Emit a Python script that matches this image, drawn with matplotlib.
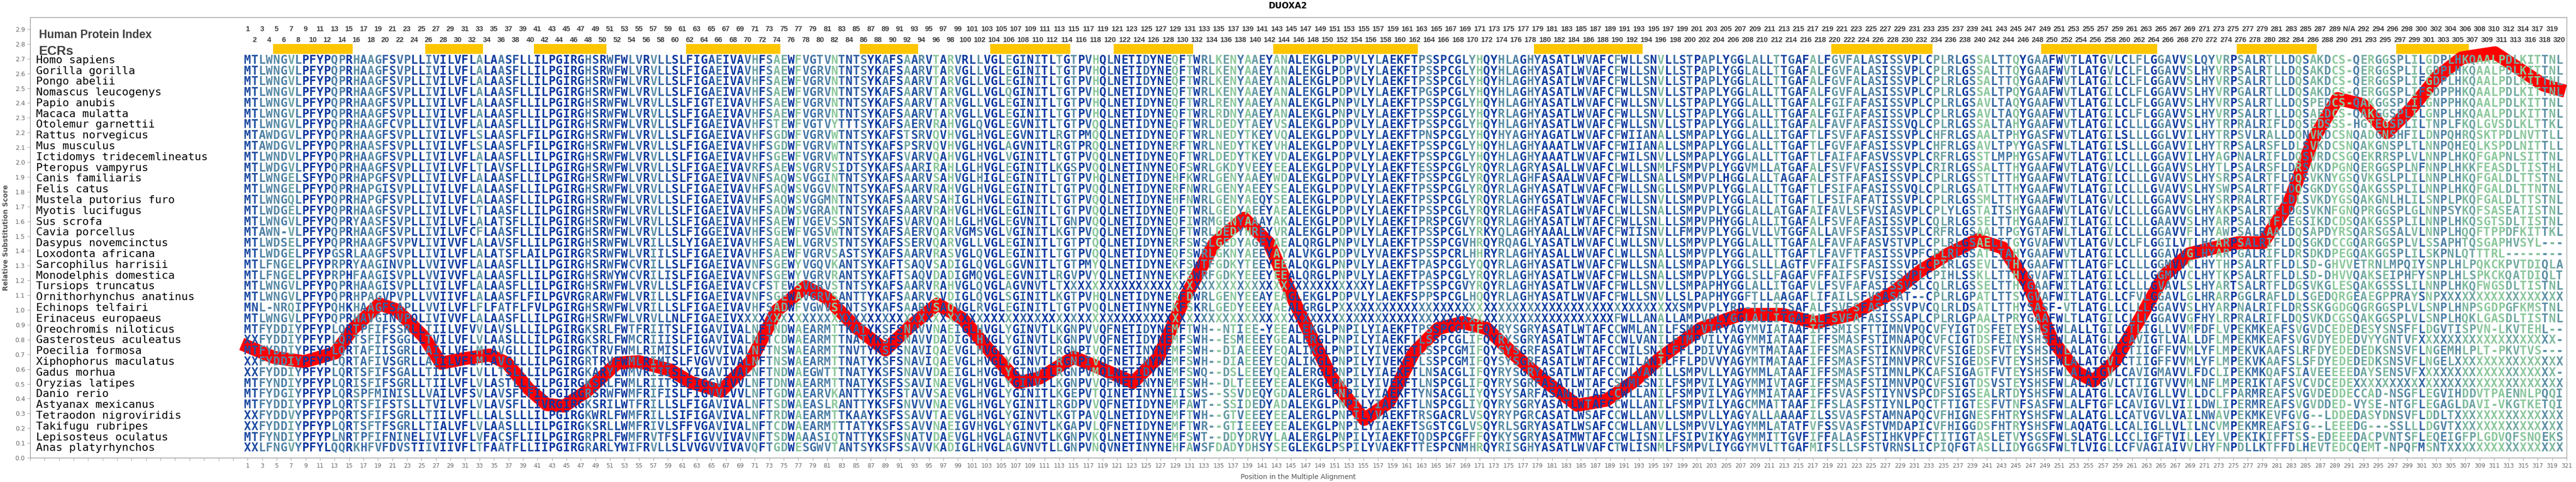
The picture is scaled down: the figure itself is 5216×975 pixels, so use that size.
import matplotlib
matplotlib.use("Agg")
import matplotlib.pyplot as plt
import numpy as np
from collections import Counter
from matplotlib.colors import LinearSegmentedColormap, Normalize

TITLE = "DUOXA2"
SPECIES = ["Homo sapiens", "Gorilla gorilla", "Pongo abelii", "Nomascus leucogenys", "Papio anubis",
           "Macaca mulatta", "Otolemur garnettii", "Rattus norvegicus", "Mus musculus",
           "Ictidomys tridecemlineatus", "Pteropus vampyrus", "Canis familiaris", "Felis catus",
           "Mustela putorius furo", "Myotis lucifugus", "Sus scrofa", "Cavia porcellus",
           "Dasypus novemcinctus", "Loxodonta africana", "Sarcophilus harrisii", "Monodelphis domestica",
           "Tursiops truncatus", "Ornithorhynchus anatinus", "Echinops telfairi", "Erinaceus europaeus",
           "Oreochromis niloticus", "Gasterosteus aculeatus", "Poecilia formosa", "Xiphophorus maculatus",
           "Gadus morhua", "Oryzias latipes", "Danio rerio", "Astyanax mexicanus", "Tetraodon nigroviridis",
           "Takifugu rubripes", "Lepisosteus oculatus", "Anas platyrhynchos"]

# alignment columns 1-60
SEG1 = [
"MTLWNGVLPFYPQPRHAAGFSVPLLIVILVFLALAASFLLILPGIRGHSRWFWLVRVLLS",
"MTLWNGVLPFYPQPRHAAGFSVPLLIVILVFLALAASFLLILPGIRGHSRWFWLVRVLLS",
"MTLWNGVLPFYPQPRHAAGFSVPLLIVILVFLALAASFLLILPGIRGHSRWFWLVRVLLS",
"MTLWNGVLPFYPQPRHAAGFSVPLLIVILVFLALAASFLLILPGIRGHSRWFWLVRVLLS",
"MTLWNGVLPFYPQPRHAAGFSVPLLIVILVFLALAASFLLILPGIRGHSRWFWLVRVLLS",
"MTLWNGVLPFYPQPRHAAGFSVPLLIVILVFLALAASFLLILPGIRGHSRWFWLVRVLLS",
"MTLWNGVLPFYPQPRHAAGFCVPLLIVILVFLALAASFLLILPGIRGHSRWFWLVRVLLS",
"MTAWDGVLPFYPQPRHAAGFSVPLLIVILVFLSLAASFLFILPGIRGHSRWFWLVRVLLS",
"MTAWDGVLPFYPQPRHAASFSVPLLIVILVFLSLAASFLFILPGIRGHSRWFWLVRVLLS",
"MTLWNDVLPFYPQPRHAAGFSVPLLIVILVFLALAASFLLILPGIRGHSRWFWLVRVLLS",
"MTLWDGVLPFYPQPRHAAGFSVPLLIVILVFLTLAVSFLLILPGIRGHSRWFWLVRVLLS",
"MTLWNGELSFYPQPRHAPGFSVPLLIVILVFLALAASFLLILPGIRGHSRWFWLVRVLLS",
"MTLWNGELPFYPQPRHAPGISVPLLIVILVFLALAASFLLILPGIRGHSRWFWLVRVLLS",
"MTLWNGQLPFYPQPRHAPGFSVPLLIVILVFLALAASFLLILPGIRGHSRWFWLVRVLLS",
"MTLWDGELPFYPQPRHAAGFSVPLLIVILVFLTLAASFLLILPGIRGHSRWFWLVRVLLS",
"MTLWNGVLPFYPQPRYAASFSVPLLIVILVFLALATSFLLILPGIRGHSRWFWLVRVLLS",
"MTAWN-VLPFYPQPRHAAGFSVPLLIVILVFCFLAASFLLILPGIRGHSRWFWLVRVLLS",
"MTLWDSELPFYPQPRHAAGFSVPVLIVIVVFLALAVSFLLILPGIRGHSRWFWLVRILLS",
"MTLWDGELPFYPGSRLAAGFSVPLLIVILVFLALATSFLAILPGIRGRSRWFWLVRIILS",
"MTLFNGELPFYPRPRYAAGINVPLLVVIVVFLALAASFLLILPGIRGHSRWFWCVRILLS",
"MTLFNGELPFYPRPHFAAGISVPLLVVIVVFLALAASFLLILPGIRGHSRWYWCVRILIS",
"MTLWNGVLPFYPQPRHAAGISVPLLIVILVFLALAASFLLILPGIRGHSRWFWLVRVLLS",
"MTLWNGVLPFYPQPRHPAGVPVPLLVVIIVFLALAASFLFILPGVRGRARWFWLVRILLS",
"MNL-NRQIPFYPQHKHAAGFSAPLLVVILVFLFLFATFLFVLPGIRGHSRWFWLVRILLS",
"MTLWNGVLPFYPQPRHAVGINVPQLIVIVVFLALAASFLLILPGIRGHSRWFWLVRVLLN",
"MTFYDDIYPFYPLQRTPFIFSSRLLTIILVFVVLAVSLLLILPGIRGKSRLFWTFRIITS",
"XXFYDDIYPFYPLQRTSFIFSGGLLTVILVFLVLAASLLLILPGIRGKSRLFWMCRIIIS",
"MTFYDDIYPFYPLQRTAFIISGRLLAIILVFLMLAVGLLLILPGIRGKTRVFWMLRIMIS",
"XXFYDDIYPFYPLQRTAFIVSGRLLAIILVFLMLAVGLLLILPGIRGRTRVFWMLRIMIS",
"XXFYDDIYPFYPLQRTSFIFSGALLTIILVFLVLLTSLLLILPGIRGKARYLWMVRIIIS",
"MTFYNDIYPFYPLQRISFIFSGRLLTIILVFLVLASTLLLILPGIRGKSRLFWMLRIITS",
"MTFYDGIYPFYPLQRSPFMINISLLVAILVFSVLAVSFLFILPGIRGRSRWFWMFRIFIS",
"MTFYDDIYPFYPLQRTSFIFSTSLLTVILVFLVLAVSFLLIVRGIRGKSRILWTFRILIS",
"XXFYDDVYPFYPPQRTSFIFSGRLLTIILVFLLLALSLLLILPGIRGKWRLFWMFRILLS",
"XXFYDDIYPFYPLQRTSFTFSGRLLTIALVFLVLAASLLLILPGIRGKSRLLWMFRIVLS",
"MTFYNDIYPFYPLNRTPFIFNINELIVILVFLVFACSFLIILPGIRGRPRLFWMFRVTFS",
"XXLFNGVYPFYLQQRKHFVFDVSTIIVIIVFLTFAATFLLIIPGIRGRARLYWIFRVLLS",
]

# alignment columns 59-150 (species 10-37)
SEG2 = [None] * 9 + [
"LSLFIGAEIVAVHFSGEWFVGRVWTNTSYKAFSVARVQAHVGLHVGLVGINITLTGTPVQQLNETIDYNEQFTWRLDEDYTKEYVDALEKGL",
"LSLFIGAEIVAVRFSAEWSVGRVSIDTSYKAFSAARIRAHLGLHVGLEGINITLKGSPVQQLNETINYNEQFSWRLGKDYVEEYEEALEKGL",
"LSLFIGAEIVAVNFSAQWSVGGINTNTSYKAFSAARVSAHVGLHIGLEGINITLTGTPVHQLNETIDYNEHFKWRLGENYAAEYWDALEKGL",
"LSLFIGAEIVAVHFSAQWSVGGVNTNTSYKAFSAARVRAHVGLHVGLEGINITLTGTPVQQLNETIDYNERFNWRLGENYAEEYSEALEKGL",
"LSLFIGAEIVAVHFSAQWSVGGMNTNTSYKAFSAARVSAHIGLHVGLEGINITLTGTPVQQLNETIDYNEHFNWRLGENYAEQYSEALEKGL",
"LSLFIGAEIVAVHFSADWSVGRANTNTSYKAFSAARVRAHVGLHVGLEGINITLTGTPVQQLNETIDYNEQFTWRLGEDYAEEYAEALEKGL",
"LSLFIGAEIVAVHFSAEWTVGEVSSNTSYKAFSVARVQAHLGLHVGLEGVNITLTGNPVQQLNETIDYNEQFIWRMGENYAAAYAKALEKGL",
"LSLFIGGEIVAVHFSGEWFVGSVWTNTSYKAFSAERVQARVGMSVGLVGINITLKGTPVQQLNETIDYNEQFTWRLDEDYHREYVRALEKGL",
"LSLYIGAEIVAVHFSAEWLVGRVSTNTSYKAFSSERVQARVGLLVGLEGINITLTGTPTQQLNETIDYNERFSWSLGEDYAGEYAEALQRGL",
"LSLFIGAEIVAVHFSAEWFVGRVSASTSYKAFSAARVRASVGLQVGLEGINITLTGTPVQQLNETIDYNEQFSWRLGKNYAEEYAYALVKGL",
"LSLFIGAEIVAVNFSGEWYVGQVKANTSYKAFTSAQVSADIGLQVGLGGVNITLTGTPMYQLNETIDYNEKFSWTFGDKYTEEYEEALQKGL",
"ISLFIGAEIVAVNFSGEWYVGRVRANTSYKAFTSAQVDADIGMQVGLEGVNITLRGVPVYQLNETINYNEKFSWRFGDKYEEEYEEALQRGL",
"LSLFIGAEIVAVCFSTEWSVGRVSTNTSYKAFSAARVRAHVGLQVGLAGVNVTLTXXXXXXXXXXXXXXXXXXXXXXXXXXXXXXXXXXXXX",
"LSLFIGAEIVAVNFSGEWAVGRVSANTTYKAFSAARVSVDIGLQVGLSGINITLKGTPVHQLNETIDYNERFDWRLGENYEEAYEAGLEKGL",
"LSLFIGAEIVAVHFSADWFVGWVSTNTSYKAFSAARVSAQVGLRVGLEGINITLTGTPVQQLNETINYNEKFSKRLGEDYEEEYAEALGRGL",
"LNLFIGAEIVXXXXXXXXXXXXXXXXXXXXXXXXXXXXXXXXXXXXXXXXXXXXXXXXXXXXXXXXXXXXXXXXXXXXXXXXXXXXXXXXXX",
"TSLFIGAVIVALNFTNDWAEARMTTKATYKSFSNAVVNAEIGLHVGLYGINVTLKGNPVVQFNETIDYNEMFTWH--NTIEE-YEEALEKGL",
"ISLFIGAVIVALNFTCDWAEARMTTNATYKSFSNAVVDADIGLHVGLYGINVTLKGNPVVQFNETIDYNEMFSWH--ESMEEEYGEALERGL",
"ISLFIGVVIVALNFTNSWAEARMTTNVTYKSFSNAVIQAEVGLHVGLYGINVTLRGNPIVQFNETINYNEMFSWH--DIAEEEYEQALIKGL",
"ISLFVGVVIVALNFTNSWAEARMTTNATYKSFSNAVIQAEVGLHVGLYGINVTLRGNPIVQFNETINYNEMFSWH--DIAEEEYEQALIKGL",
"ISLYIGAVIVALNFTNDWAEGWTTTNATYKSFSNAVVDAEIGLHVGLYGINVTLRGNPVMQLNETIDYNEMFSWQ--DSLEEEYQEALERGL",
"TSLFIGGVIVVLNFTDNWAEARMTTNATYKSFSSAVINAEVGLHVGLYGINVTLKGNPVVQFNETINYNEMFSWH--DLTEEEYEEALEKGL",
"ISLFIGVVLVVLNFTGDWAEARVKANTTYKSFSTAVVSAEVGLHVGLYGINITLKGEPVTQINETINYNEIISWS--SSVDEQYGDALERGL",
"LSLFIGAVIVALNFTSDWAEASLRANTTYKSFSNVVVNAEVGLHVGLYGINITLRGDPVVQFNETIDYNEMFAWT--SSIDEDYADALEKGL",
"LSIFIGAVIVALNFTRDWAEARMTTKAAYKSFSSAVVTAEVGLHVGLYGINVTLKGTPAVQLNETIDYNEMFTWH--GTVEEEYEEALERGL",
"LSFFVGAVIVALNFTCDWAEARMTTTATYKSFSSAVVNAEIGVHVGLYGINVTLKGAPVLQFNETIDYNEMFTWR--GTIEEEYEEALEKGL",
"FSLFIGVVIVAVNFTSDWAAASIQTNTTYKSFSNATVDAEVGLHVGLAGINVTLKGNPVKQLNETINYNEMFSWT--DDYDRVYLAALERGL",
"LSLVVGVVIVAVQFTGDWESGWVTANTSYKSFSSAVVKADIGLHVGLAGVNVTLLGNPVNQVNETINYNEHFAWSFDADYDHSYSEGLEKGL",
]

# alignment columns 60-127 (species 1-9)
SEG2A = [
"SLFIGAEIVAVHFSAEWFVGTVNTNTSYKAFSAARVTARVRLLVGLEGINITLTGTPVHQLNETIDYN",
"SLFIGAEIVAVHFSAEWFVGRVNTNTSYKAFSAARVTARVGLLVGLEGINITLTGTPVHQLNETIDYN",
"SLFIGAEIVAVHFSAEWFVGRVNTNTSYKAFSAARVTARVGLLVGLEGINITLTGTPVHQLNETIDYN",
"SLFIGAEIVAVHFSAEWFVGRVNTNTSYKAFSAARVTARVGLLVGLQGINITLTGTPVHQLNETIDYN",
"SLFIGTEIVAVHFSAEWFVGRVNTNTSYKAFSAARVTARVGLLVGLEGINITLTGTPVHQLNETIDYN",
"SLFIGAEIVAVHFSAEWFVGRVNTNTSYKAFSAARVTARVGLLVGLEGINITLTGTPVHQLNETIDYN",
"SLFIGAEIVAVHFSTEWFVGTVYTTTSYKAFSAERVRAHVGLQVGLEGVNITLTGTPVQQLNETIDYN",
"SLFIGAEIVAVHFSGDWFVGRVWTNTSYKAFSTSRVQVHVGLHVGLEGVNITLRGTPMQQLNETIDYN",
"SLFIGAEIVAVHFSGDWFVGRVWTNTSYKAFSPSRVQVHVGLHVGLAGVNITLRGTPRQQLNETIDYN",
]
# alignment columns 127-154 (species 1-9)
SEG2B = [
"NEQFTWRLKENYAAEYANALEKGLPDPV", "NEQFTWRLKENYAAEYANALEKGLPDPV", "NEQFTWRLKENYAAEYANALEKGLPDPV",
"NEQFTWRLKENYAAEYANALEKGLPDPV", "NEQFTWRLRENYAAEYANALEKGLPNPV", "NEQFTWRLRDNYAAEYANALEKGLPNPV",
"NEQFTWRLDEDYTAEYVSALEKGLPDPV", "NEQFTWRLNEDYTKEYVQALEKGLPDPV", "NERFTWRLNEDYTKEYVHALEKGLPDPV",
]

# alignment columns 148-235
SEG3 = [
"KGLPDPVLYLAEKFTPSSPCGLYHQYHLAGHYASATLWVAFCFWLLSNVLLSTPAPLYGGLALLTTGAFALFGVFALASISSVPLCPL",
"KGLPDPVLYLAEKFTPSSPCGLYHQYHLAGHYASATLWVAFCFWLLSNVLLSTPAPLYGGLALLTTGAFALFGVFALASISSVPLCPL",
"KGLPDPVLYLAEKFTPSSPCGLYHQYHLAGHYASATLWVAFCFWLLSNVLLSTPAPLYGGLALLTTGAFALFGVFALASISSVPLCPL",
"KGLPDPVLYLAEKFTPGSPCGLYHQYHLAGHYASATLWVAFCFWLLSNVLLSTPAPLYGGLALLTTGAFALFGVFALASISSVPLCPL",
"KGLPNPVLYLAEKFTPSSPCGLYHQYHLAGHYASATLWVAFCFWLLSNVLLSTPAPLYGGLALLTTGAFALFGIFAFASISSVPLCPL",
"KGLPNPVLYLAEKFTPSSPCGLYHQYRLAGHYASATLWVAFCFWLLSNVLLSTPAPLYGGLALLTTGAFALFGIFAFASISSVPLCPL",
"KGLPDPVLYLAEKFTPSSPCGLYHQYHLAGHYASATLWVAFCFWLLSNVLLSTPAPLYGGLALLITGAFALFAVFAFASISSVQLCPL",
"KGLPDPVLYLAEKFTPNSPCGLYHQYHYAGHYAGATLWVAFCFWIIANALLSMPAPLYGGLALLITGAFTLFSVFAFASISSVPLCHF",
"KGLPDPVLYLAEKFTPSSPCGLYHQYHLAGHYAAATLWVAFCFWIIANALLSMPAPLYGGLALLTTGAFTLFGVFAFASISSVPLCHF",
"KGLPDPVLYLAEKFTPSSPCGLYHQYHLAGHYAAATLWVAFCFWILSNVLLSMPAPLYGGLALLTTGAFTLFAIFAFASVSSVPLCRF",
"KGLPDPVLYLAEKFTESSPCGLYRQYRLAGRYASALLWVAFCLWLLSNMLFSMPVPLYGGVMLLATGAFALFSVFVFASISSVPLCRI",
"KGLPDPVLYLAEKFTPSSPCGLYRQYRLAGHFASAALWVAFCFWLLSNALLSMPVPLHGGLALLTAGAFALFSTFAFASISSVPLCPL",
"KGLPDPVLYLAEKFTPSSPCGLYRQYRLAGHYASATLWVAFCFWLLSNGLLSMPVPLYGGLALLTTGAFTLFSIFAFASISSVQLCPL",
"KGLPDPVLYLAEKFTPSSPCGLYRQYRLAGHYGSATLWVAFCFWLLSNVLLSMPVPLYGGLALLTTGAFTLFSIFAFATISSVPLCPL",
"KGLPDPVLYLAEKFTPSSPCGLYRQYRLAGHFASATLWVAFCLWLLSNALLSMPVPLYGGLALLATGAFAIFAVLSFVSIASVPLCPL",
"KGLPDPVLYLAEKFTPRSPCGVYRQYRLAGHYASATLWTAFCFWLLSNLLLSMPVPHYGGLALLITGAFALFSVFAFASISSVPLCQL",
"KGLPDPVLYLAEKFTPSSPCGLYRKYQLAGHYAAALLWVAFCFWIISNVLLFMPVPLYGGLVLLVTGGFALLAVFSFASISSVPLCRF",
"RGLPNPVLYLAEKFTPSSPCGVHRQYRQAGLYASATLWVAFCLWLLSNVLLSMPVPLYGGLALLTTGAFALFAVFAFASVSTVPLCPL",
"KGLPDPVLYVAEKFSPSSPCRLHHRYRLAGHYASALLWVAFCLWLLSNALLSMPVPLYGGLALLTTGAFTLFAVFTFASISSVPFCPL",
"KGLPNPVLYLAEKFTPASPCGLYQQYRLAGHYASATLWVAFCFWLLSNALLSMPAPLYGGLSLLLAGTFVFFAIFSFASISSVPLCPI",
"RGLPNPVLYLAEKFTPASPCGLYRQYRLAGHYASATLWVAFCFWLLSNALLSMPVPLYGGLSLLFAGAFVFFAIFSFVSISSVPLCPI",
"XXXXXXXXYLAEKFTPSSPCGVYRQYRLAGHYASATLWVAFCFWLLSNVLLSMPAPHYGGLALLITGAFVLFSVFAFASISSVSLCQL",
"KGLPDPVLYLAEKFSPPSPCGLHQQYRLAGHYASATLWVAFCFWLLSNVLLSLPAPHYGGFTLLAAGAFLIFAILSFVSASAT--CPL",
"RGLPXXXXXXXXXXXXXXXXXXXXXXXXXXXXXXXXXXXXXXXXXXXXXXXSMPVPLYRD-TLLTISAFALFSVFSFASISSVPVCQL",
"XXXXXXXXXXXXXXXXXXXXXXXXXXXXXXXXXXXXXXXXXXFWLLANALLAMPVPLYGGLALLITGAFALFSVFAFASISSAPLCPL",
"KGLPNPILYIAEKFTPSSPCGLIFQYRYSGRYASATLWTAFCCWMLANILFSMPVIRYAGYMVIATAAFIFFSMISFTTIMNVPQCVF",
"RGLPNPILYIAEKFTLSSPCGLIFQYRYSGRYASATLWTAFCCWLVANILFTMPVILYAGYMMIATAAFIFFSMASFSTIMNAPQCVF",
"KGLPNPILYIVEKFTLSSPCGMIFQYSYSGRFASATLWTAFCCWILSNILFFLPDIVYAGYMTMATAAFIFFSMASFSTIKNVPRCVF",
"KGLPNPILYIVEKFTLSSPCGMIFQYSYSGRFASATLWTAFCCWILANILFFLPDVVYAGYMTMATAAFIFFSMASFSTIMNVPRCVF",
"RGLPNPILYIAEKFTLNSACGLIFQYRYSGRYASATLWTAFCCWLVANILLSMPVLLYAGYMMLATAAFIFFSMASFSTIMNLPKCAF",
"KGLPNPILYIVEKFTLNSPCGLIFQYRYSGRFASATLWTAFCSWMLSNILFSMPVILYAGYMMIVTAGFIFFSMASFSTIMNVPQCVF",
"RGLPNPILYIAEKFTYNSACGLIYQYSYSARFASANLWTAFCCWLLANILFSMPVILYAGYMMIATAAFIFFSVASFSTIYNVSPCDF",
"KGLPNPILYIAEKFTLNSPCGLIYQYRYSGRYASATLWTAFCCWLLANILFSMPVILYAGCMMATTAAFIFFSLASFSTIYNLPQCTF",
"RGLPNPILYVAEKFTRSGACRLVSQYRYPGRCASATLWSAFCCWLLANVLLSMPVLLYAGYALLAAAAFILSSVASFSTAMNAPQCVF",
"KGLPNPILYIAEKFTSGSTCGLVSQYRLSGRYASATLWSAFCCWLLANVLLSMPVVLYAGYMMLATATFVFSSVASFSTVMDAPICVF",
"RGLPNPILYIAEKFTQDSPCGFFFQYKYSGRYASATMWTAFCCWLISNILFSIPVIKYAGYMMITTGVFIFFALASFSTIHKVPFCTI",
"KGLPSPILYVAEKFTTESPCNMHRQYRISGHYASATLWVAFCTWLISNMLFSMPVLIYGGYMVLTTGAFMIFSLLSFSTVRNSLICPI",
]

# alignment columns 233-320
SEG4 = [
"CPLRLGSSALTTQYGAAFWVTLATGVLCLFLGGAVVSLQYVRPSALRTLLDQSAKDCS-QERGGSPLILGDPLHKQAALPDLKITTNL",
"CPLRLGSSALTTQYGAAFWVTLATGVLCLFLGGAVVSLHYVRPSALRTLLDQSAKDCS-QERGGSPLILGDPLHKQAALPDLKITTNL",
"CPLRLGSSALTTQYGAAFWVTLATGILCLFLGGAVVSLHYVRPSALRTLLDQSAKDCS-QERGGSPLIFGDPLHKQAALPDLKITTNL",
"CPLRLGSSALTPQYGAAFWVTLATGILCLFLGGAVVSLHYVRPGALRTLLDQSAKDCS-QERGGSPLIFSDPPHKQAALPDLKITTNL",
"CPLRLGSAVLTAQYGAAFWVTLATGILCLFLGGAVVSLHYVRPSALRTLLDQSPEDCS-QAKGGSPLILGNPPHKQAALPDLKITTNL",
"CPLRLGSAVLTAQYGAAFWVTLATGILCLFLGGAVVSLHYVRPSALRTLLDQSAEDCS-QAKGGSPLILGNPLHKQAALPDLKITTNL",
"CPLRLGSSALTAHYGAAFWVTLATGILCLLLGGAVVSLHYTRPRALRIFLDQSEDSSS-HGTEGSPLILTNPLFKQLGVSDLKLTTKL",
"CHFRLGSAALTPHYGASFWVTLATGILSLLLGGLVVILHYTRPSVLRALLDQNVKDCSNQADGNSHFILDNPQHRQSKTPDLNVTTLL",
"CHFRLGSAVLTPYYGASFWLTLATGILSLLLGGAVVILHYTRPSALRSFLDLSVKDCSNQAKGNSPLTLNNPQHEQLKSPDLNITTLL",
"CRFRLGSSTLMPHYGSAFWVTLATGILCLLLGGAVVILHYAGPNALRIFLDQSVRDCSGQEKRRSPLVLNNPLHKQFGAPNLSITTNL",
"CRIRLGSSALTTHYGAAFWVTLATGVLCLLLGGAVVSLHYTLPSALRSFLDRSVKDPGNQERGGSPLNFNNPLHKKFEASDLTISTHL",
"CPLRLGSSTLTTHYGAAFWVTLATGILCLLLGVAVVSLHYSRPSALRTFLDQSVKNYGSQVKGSLPLILNNPLHKQFGALDLTTSTNL",
"CPLRLGSATLTTHYGAAFWVTLATGILCLLLGVAVVSLHYSWPSALRTFLDQSGKDYGSQAKGSSPLILNNPLHKQFGALDLTTNTNL",
"CPLRLGSSMLTTHYGAAFWVTLATGVLCLLLGGAVVSLHYSRPRALRTFLDLSVKDYGSQAKGNLHLILSNPLPKQFGALDLTTSTNL",
"CPLYLGSTAITSHYGAAFWVTLATGVLCLLLGGAVVGLHYAKPSALRTFLDGSVKNFGNQPRGGSPLGLNNPSYKQFSASEATISTNL",
"CQLRLGSSELTTHYGAAFWITLATGILCLLLGAAVVSLHYARPSALRTFLEGSIKDCDSQAKGSSPLILNNPLHKQSGTSDLTISTNL",
"CRFRLGSAALTPGYGTAFWLTLATGILCLLLGGAVVFLHYAWPSALRAALDQSAPDYRSQARSGSALVLNNPLHQQFTPPDFKITTKL",
"CPLRLGSAELTTGYGVAFWVTLATGVLCLFLGGILVTLHCARPSALRIFLDQSGKDCCGQARGGSPLVLSSAPHTQSGAPHVSYL---",
"CPLRLGSATLTAHYGAAFWVTLATGILCLLLGGAVVGLHYARPGALRIFLDRSDKDPEGQAKGGSPLILSKPNLQTTTRL--------",
"CPIRLGSEVLTTHYGAAFWTTLATGFLCLLLGGMVVCLHYTHPSALRTFLDLSD-GHVVETRNLMPQIYSNPLHLPQKCKPVTDIQLA",
"CPIHLSSKLLTTHYGVAFWITLATGILCLLLGGMVVCLHYTKPSALRTFLDLSD-DHVVQAKSEIPHFYSNPLHLSPKCKQATDIQLT",
"CQLRLGSSELTTHYGAAFWITLATGILCLLLGVAVLSLHYARTSALRTFLDGSVKGLESQAKGSSSLILNNPLHKQFWGSDLTISTNL",
"CPLRLGPATLTTSYGVAFWITLATGLLCFVLGGAVLGLHRARPGGLRAFLDLSGEDQRGEAEGPPRAYSNPXXXXXXXXXXXXXXXXX",
"CQLRLDSATLTTHYSASF-VTLATGLLCLLLGGAVVSLHYARPNALRIFLDRSSKGGDGQGRGGSPLVLSNPLHNPSGDPGFKMSTNL",
"CPLRLGPAALTPRYGAAFWLTLATGILCLLLGGAVVGFHYLRPRALRIFLDQSVKDCGSQAKGGSPLVLSNPLHQKLGASDLTISTNL",
"CVFYIGTDSFETEYSHSFWLALLTGILCTLIGLLVVMFDFLVPEKMKEAFSVGVDCEDEDESYSNSFFLDGVTISPVN-LKVTEHL--",
"CVFCIGTDSFEINYSHSFWLALATGLLCAVIGTLVALLDFLMPEKMKEAFSVGVDYEDEDVYYGNTVFXXXXXXXXXXXXXXXXXXX",
"CVFSIGEDSFVTEYSHSFWLALATGVLCTIIGFFVVMLYFLMPEKVKAAFSLRFDYEDEDEDKSNSVFLNGEMHLPLT-PKVTVS---",
"CVFSIGEDSFVTEYSHSFWLALATGVLCTIIGFFVVMLYFLMPEKVKAAFSLSFDYEDEDEDKSNSVFLNGELXXXXXXXXXXXXXXX",
"CAFSIGAGTFVTEYSHSFWLALATGVLCAVIGMAVVLFDCLIPEKMKQAFSIAVEEEEEDAYSENSVFXXXXXXXXXXXXXXXXXXX",
"CVFSIGTDSVSTEYSHSFWLALATGVLCTIIGTVVVMLNFLMPERIKTAFSVCVDCEDEXXXXXXXXXXXXXXXXXXXXXXXXXXXXX",
"CDFSIGSEALRTDYSHSFWLALATGLLCAVIGLLVVLLDCLFPARMREAFSVGVDEDDECCAD-NSGFLEGVIHDDVTPAENNLPQQI",
"CTFTIGTESFVTNFSASFWLALFTGFLCAVIGVLVIILDWLIPERMREAFSVGVDDED-VYSE-NTGFLEGAGLDAVI-VKGTKETQI",
"CVFHIGNESFHTRYSHSFWLALATGLLCATVGVLVAILNWAVPEKMKEVFGVG--LDDEDASYDNSVFLDDLTXXXXXXXXXXXXXXX",
"CVFHIGGDSFHTRYSHSFWLAQATGLLCALIGLLVLILNCVMPEKMREAFSIG--LEEEDG---SSLLLDGVTXXXXXXXXXXXXXXX",
"CTITIGTASLETVYSGSFWLSLATGLLCCLIGFTVILLEYLVPEKIKIFFTSS-EDEEEDACPVNTSFLEQEIGFPLGDVQFSNQEKS",
"CPIQFGTASLLIDYGGSFWLTLVIGLLCFVAGIAIVVLHYFNPDLLKTFFDLHEVTEDCQEMT-NPQFMSNTXXXXXXXXXXXXXXXX",
]

# human protein index per alignment column
HUMAN_INDEX = [str(i) for i in range(1, 291)] + ["N/A"] + [str(i) for i in range(291, 315)] + [str(i) for i in range(316, 321)]

# ECR regions (alignment columns, inclusive)
ECR_START = [5, 26, 41, 62, 86, 104, 121, 143, 179, 220, 249, 276, 298]
ECR_END = [15, 33, 50, 74, 93, 114, 131, 162, 193, 233, 264, 286, 307]

# relative substitution score curve
CURVE_POS = [0.2, 4.6, 8.8, 13.1, 15.5, 19.2, 21.6, 25.3, 27.7, 30.8, 34.4, 36.8, 39.8, 42.3, 44.7, 47.8,
             52, 55, 59.3, 62.2, 66.3, 70.4, 74, 78, 81, 85, 89, 92.7, 96.2, 99.7, 103.3, 107.4, 110.3,
             115, 118, 123.2, 126.7, 130.3, 134.4, 138.5, 142, 145.5, 147.5, 150.5, 152, 155.1, 158.5,
             161.9, 165.3, 168.7, 172, 175.5, 180, 184.5, 188.5, 192.4, 195.8, 201.5, 207.1, 212.8,
             217.3, 222.4, 228.1, 232, 235.7, 239.7, 243.2, 246.6, 250, 253.4, 255.7, 258.6, 262,
             265.4, 268.9, 272.3, 275.7, 279.1, 282.6, 286, 289.4, 292.8, 296.2, 299.7, 303.1,
             306.5, 311.1, 314.5, 317.9, 320.8]
CURVE_VAL = [0.77, 0.68, 0.65, 0.71, 0.87, 1.04, 1.0, 0.82, 0.64, 0.67, 0.695, 0.64, 0.465, 0.36, 0.35, 0.45,
             0.64, 0.65, 0.594, 0.51, 0.45, 0.65, 0.995, 1.157, 1.08, 0.88, 0.73, 0.90, 1.04, 0.94, 0.73,
             0.51, 0.54, 0.68, 0.62, 0.51, 0.68, 1.08, 1.45, 1.62, 1.45, 1.05, 0.85, 0.55, 0.45, 0.26,
             0.375, 0.71, 0.875, 0.915, 0.875, 0.71, 0.52, 0.355, 0.39, 0.52, 0.67, 0.875, 0.97, 0.97,
             0.915, 0.97, 1.12, 1.27, 1.38, 1.475, 1.42, 1.18, 0.80, 0.58, 0.52, 0.65, 0.93, 1.23,
             1.38, 1.42, 1.455, 1.455, 1.715, 2.15, 2.43, 2.39, 2.20, 2.37, 2.575, 2.705, 2.74, 2.63,
             2.52, 2.48]


def fit(s, n):
    return (s + "-" * n)[:n]


NCOL = 320
rows = []
for i in range(len(SPECIES)):
    if SEG2[i] is None:
        mid = fit(SEG1[i], 60) + fit(SEG2A[i][1:], 67) + fit(SEG2B[i][1:], 20)
    else:
        mid = fit(SEG1[i], 58) + fit(SEG2[i], 89)
    full = mid + fit(SEG3[i], 88) + fit(SEG4[i][3:], 85)
    rows.append(fit(full, NCOL))

# conservation per column
cons = []
for c in range(NCOL):
    col = [r[c] for r in rows]
    cons.append(Counter(col).most_common(1)[0][1] / len(col))
cmap = LinearSegmentedColormap.from_list("c", ["#8cc89c", "#6a9ea4", "#4677a6", "#1f4ea2", "#0a37a0"])
norm = Normalize(0.35, 0.97)

W, H = 5216, 975
fig = plt.figure(figsize=(W / 100, H / 100), dpi=100)
ax = fig.add_axes([61 / W, 1 - 926 / H, (5197 - 61) / W, (926 - 35) / H])
ax.set_xlim(-29, 320.7)
ax.set_ylim(0, 2.98)

row_y0, row_dy = 2.69, 0.0729
for i, (sp, seq) in enumerate(zip(SPECIES, rows)):
    y = row_y0 - i * row_dy
    ax.text(-28.2, y, sp, family="DejaVu Sans Mono", fontsize=16, va="center", ha="left", color="black", zorder=3)
    for c, ch in enumerate(seq):
        color = cmap(norm(cons[c]))
        ax.text(c + 1, y, ch, family="DejaVu Sans Mono", fontweight="bold", fontsize=17,
                va="center", ha="center", color=color, zorder=3)

ax.plot(CURVE_POS, CURVE_VAL, color="#ff0000", lw=19, solid_capstyle="butt", solid_joinstyle="round", zorder=2)

for c, lab in enumerate(HUMAN_INDEX):
    y = 2.90 if c % 2 == 0 else 2.826
    ax.text(c + 1, y, lab, family="Liberation Sans", fontweight="bold", fontsize=10.5,
            color="#3a3a3a", ha="center", va="center")
for s, e in zip(ECR_START, ECR_END):
    ax.fill_between([s - 0.5, e + 0.5], 2.733, 2.80, color="#ffc600", lw=0)

ax.text(-27.8, 2.86, "Human Protein Index", family="Liberation Sans", fontweight="bold", fontsize=16.5,
        color="#404040", va="center")
ax.text(-27.8, 2.75, "ECRs", family="Liberation Sans", fontweight="bold", fontsize=19, color="#404040", va="center")

ticks = list(range(-29, 322, 2))
ax.set_xticks(ticks)
ax.set_xticklabels([str(t) if t >= 1 else "" for t in ticks], fontsize=8.5, color="#666666")
ax.set_yticks(np.round(np.arange(0, 2.91, 0.1), 1))
ax.set_yticklabels([f"{v:.1f}" for v in np.arange(0, 2.91, 0.1)], fontsize=9, color="#666666")
ax.tick_params(axis="both", colors="#aaaaaa", labelcolor="#666666", length=4)
for sp in ax.spines.values():
    sp.set_color("#888888")
ax.set_xlabel("Position in the Multiple Alignment", fontsize=10, color="#555555", labelpad=6)
ax.set_ylabel("Relative Substitution Score", fontsize=10, color="#555555", fontweight="bold", labelpad=8)
fig.suptitle(TITLE, fontsize=12, fontweight="bold", y=0.997, va="top")

fig.savefig("out.png", dpi=100)
